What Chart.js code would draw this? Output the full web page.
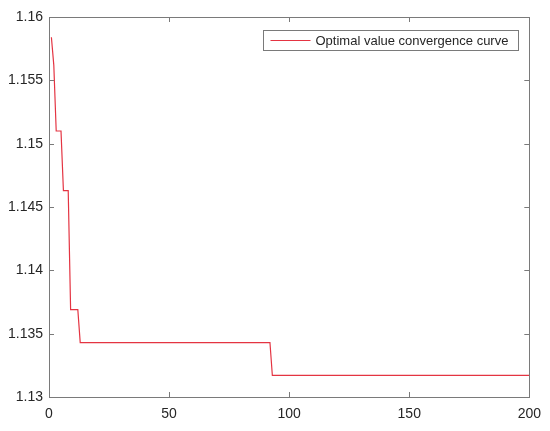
<!DOCTYPE html>
<html>
<head>
<meta charset="utf-8">
<script src="https://cdn.jsdelivr.net/npm/chart.js@4/dist/chart.umd.min.js"></script>
<style>
  html, body { margin: 0; padding: 0; background: #ffffff; }
  #wrap { width: 550px; height: 431px; position: relative; }
</style>
</head>
<body>
<div id="wrap"><canvas id="c" width="550" height="431"></canvas></div>
<script>
// ---- data ----
const seriesLabel = 'Optimal value convergence curve';
const iterations = [1, 2, 3, 5, 6, 8, 9, 12, 13, 92, 93, 200];
const bestValues = [1.1584, 1.1562, 1.1510, 1.1510, 1.1463, 1.1463, 1.1369, 1.1369, 1.1343, 1.1343, 1.1317, 1.1317];
const xTicks = [0, 50, 100, 150, 200];
const xTickLabels = ['0', '50', '100', '150', '200'];
const yTicks = [1.13, 1.135, 1.14, 1.145, 1.15, 1.155, 1.16];
const yTickLabels = ['1.13', '1.135', '1.14', '1.145', '1.15', '1.155', '1.16'];

const axisColor = '#7a7a7a';
const textColor = '#262626';
const lineColor = 'rgb(228,52,66)';
const fontFamily = '"Liberation Sans", Arial, Helvetica, sans-serif';

const points = iterations.map((x, i) => ({ x: x, y: bestValues[i] }));

// frame + inward ticks on all four sides (MATLAB box style)
const framePlugin = {
  id: 'frame',
  afterDatasetsDraw(chart) {
    const { ctx, chartArea: a, scales } = chart;
    const L = 5;
    ctx.save();
    ctx.strokeStyle = axisColor;
    ctx.lineWidth = 1;
    ctx.strokeRect(Math.round(a.left) + 0.5, Math.round(a.top) + 0.5,
                   Math.round(a.right - a.left), Math.round(a.bottom - a.top));
    ctx.beginPath();
    xTicks.forEach(v => {
      const px = Math.round(scales.x.getPixelForValue(v)) + 0.5;
      ctx.moveTo(px, a.bottom); ctx.lineTo(px, a.bottom - L);
      ctx.moveTo(px, a.top); ctx.lineTo(px, a.top + L);
    });
    yTicks.forEach(v => {
      const py = Math.round(scales.y.getPixelForValue(v)) + 0.5;
      ctx.moveTo(a.left, py); ctx.lineTo(a.left + L, py);
      ctx.moveTo(a.right, py); ctx.lineTo(a.right - L, py);
    });
    ctx.stroke();
    ctx.restore();
  }
};

// MATLAB-style boxed legend in the upper right
const legendPlugin = {
  id: 'boxLegend',
  afterDraw(chart) {
    const { ctx } = chart;
    const ds = chart.data.datasets[0];
    const x0 = 263.5, y0 = 30.5, w = 255, h = 20;
    ctx.save();
    ctx.fillStyle = '#ffffff';
    ctx.fillRect(x0, y0, w, h);
    ctx.strokeStyle = axisColor;
    ctx.lineWidth = 1;
    ctx.strokeRect(x0, y0, w, h);
    ctx.strokeStyle = ds.borderColor;
    ctx.lineWidth = 1.2;
    ctx.beginPath();
    ctx.moveTo(x0 + 7, y0 + h / 2);
    ctx.lineTo(x0 + 47, y0 + h / 2);
    ctx.stroke();
    ctx.fillStyle = textColor;
    ctx.font = '13px ' + fontFamily;
    ctx.textBaseline = 'middle';
    ctx.textAlign = 'left';
    ctx.fillText(ds.label, x0 + 52, y0 + h / 2 + 0.5);
    ctx.restore();
  }
};

new Chart(document.getElementById('c'), {
  type: 'line',
  data: {
    datasets: [{
      label: seriesLabel,
      data: points,
      borderColor: lineColor,
      borderWidth: 1.2,
      pointRadius: 0,
      tension: 0,
      fill: false
    }]
  },
  options: {
    responsive: false,
    animation: false,
    devicePixelRatio: 1,
    layout: { padding: { left: 0, top: 17, right: 20, bottom: 0 } },
    plugins: { legend: { display: false }, tooltip: { enabled: false } },
    scales: {
      x: {
        type: 'linear',
        min: 0, max: 200,
        grid: { display: false, drawTicks: false },
        border: { display: false },
        afterBuildTicks: s => { s.ticks = xTicks.map(v => ({ value: v })); },
        afterFit: s => { s.height = 34; },
        ticks: {
          padding: 9,
          color: textColor,
          font: { family: fontFamily, size: 14 },
          maxRotation: 0,
          callback: (v, i) => xTickLabels[i]
        }
      },
      y: {
        type: 'linear',
        min: 1.13, max: 1.16,
        grid: { display: false, drawTicks: false },
        border: { display: false },
        afterBuildTicks: s => { s.ticks = yTicks.map(v => ({ value: v })); },
        afterFit: s => { s.width = 49; },
        ticks: {
          padding: 6,
          color: textColor,
          font: { family: fontFamily, size: 14 },
          callback: (v, i) => yTickLabels[i]
        }
      }
    }
  },
  plugins: [framePlugin, legendPlugin]
});
</script>
</body>
</html>
